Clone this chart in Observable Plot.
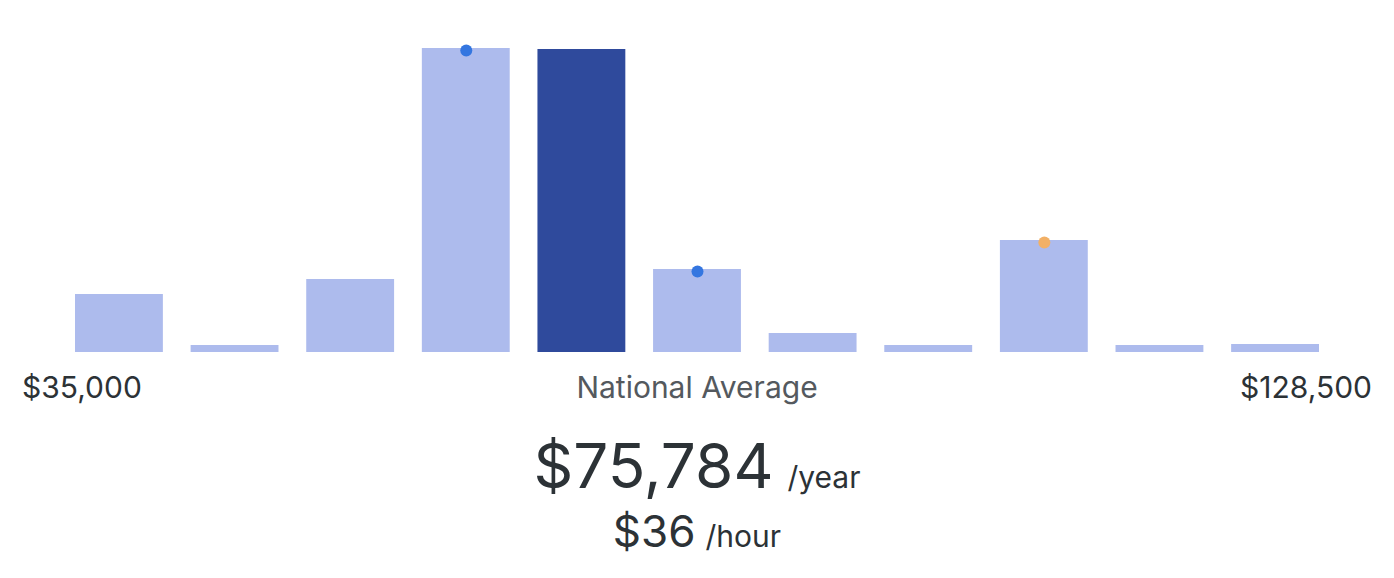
<!DOCTYPE html>
<html>
<head>
<meta charset="utf-8">
<script src="https://cdn.jsdelivr.net/npm/d3@7"></script>
<script src="https://cdn.jsdelivr.net/npm/@observablehq/plot@0.6"></script>
<style>
  html, body { margin: 0; padding: 0; background: #fff; }
  body { font-family: Inter, "Liberation Sans", Arial, sans-serif; color: #2c3236; }
  #wrap { position: relative; width: 1394px; height: 578px; }
  #chart { position: absolute; left: 0; top: 0; }
  .lbl { position: absolute; line-height: 1; font-size: 30px; white-space: nowrap; }
  #minLbl { left: 22px; top: 372px; color: #2c3236; }
  #maxLbl { right: 22px; top: 372px; color: #2c3236; }
  #avgLbl { left: 0; right: 0; text-align: center; top: 372px; color: #54595e; }
  .row { position: absolute; left: 0; right: 0; display: flex; justify-content: center; align-items: baseline; line-height: 1; white-space: nowrap; }
  #yearRow { top: 435px; }
  #hourRow { top: 509px; }
  .big { font-size: 62px; margin-right: 14px; }
  .mid { font-size: 44px; margin-right: 10px; }
  .unit { font-size: 30px; }
</style>
</head>
<body>
<div id="wrap">
  <div id="chart"></div>
  <div class="lbl" id="minLbl"></div>
  <div class="lbl" id="avgLbl"></div>
  <div class="lbl" id="maxLbl"></div>
  <div class="row" id="yearRow"><span class="big" id="yearVal"></span><span class="unit">/year</span></div>
  <div class="row" id="hourRow"><span class="mid" id="hourVal"></span><span class="unit">/hour</span></div>
</div>
<script>
// Salary bins (start of each $8,500-wide bin) and relative share of jobs in each bin
const binStarts = [35000, 43500, 52000, 60500, 69000, 77500, 86000, 94500, 103000, 111500, 120000];
const binShares = [58, 7, 73, 304, 303, 83, 19, 7, 112, 7, 8];
const binWidth = 8500;

// Markers drawn on top of some bins
const markerBins = [60500, 77500, 103000];
const markerKinds = ["reference", "reference", "highlight"];

// Labels
const rangeMin = 35000;
const rangeMax = 128500;
const averageLabel = "National Average";
const nationalAverage = 75784;
const hourlyAverage = 36;

const bars = binStarts.map((s, i) => ({
  bin: s,
  share: binShares[i],
  kind: (nationalAverage >= s && nationalAverage < s + binWidth) ? "national" : "other"
}));
const markers = markerBins.map((b, i) => ({
  bin: b,
  share: binShares[binStarts.indexOf(b)],
  kind: markerKinds[i]
}));

const fmt = d3.format("$,");

const chart = Plot.plot({
  width: 1394,
  height: 362,
  marginLeft: 75,
  marginRight: 75,
  marginTop: 48,
  marginBottom: 10,
  x: { type: "band", domain: binStarts, paddingInner: 0.24, paddingOuter: 0, align: 0.5, round: false, axis: null },
  y: { domain: [0, d3.max(binShares)], axis: null },
  color: {
    domain: ["other", "national", "reference", "highlight"],
    range: ["#adbbed", "#2f4a9c", "#3476e0", "#f2b066"]
  },
  marks: [
    Plot.barY(bars, { x: "bin", y: "share", fill: "kind" }),
    Plot.dot(markers, { x: "bin", y: "share", fill: "kind", r: 6, dy: 2, stroke: "none" })
  ]
});
document.getElementById("chart").appendChild(chart);

document.getElementById("minLbl").textContent = fmt(rangeMin);
document.getElementById("maxLbl").textContent = fmt(rangeMax);
document.getElementById("avgLbl").textContent = averageLabel;
document.getElementById("yearVal").textContent = fmt(nationalAverage);
document.getElementById("hourVal").textContent = fmt(hourlyAverage);
</script>
</body>
</html>
